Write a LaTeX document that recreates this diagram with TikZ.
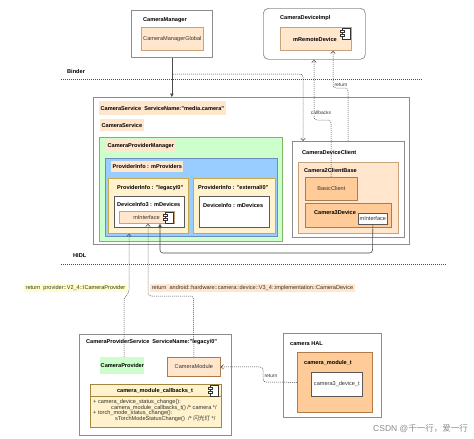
\documentclass[tikz,border=0pt]{standalone}
\usepackage{fontspec}
\setmainfont{Liberation Sans}
\newfontfamily\cjk{Noto Sans CJK SC}
\usetikzlibrary{arrows.meta}
\definecolor{peach}{HTML}{FFE6CC}
\definecolor{peachd}{HTML}{C8A27A}
\definecolor{orangef}{HTML}{FFCC99}
\definecolor{oranged}{HTML}{B07A4A}
\definecolor{greenf}{HTML}{CCFFCC}
\definecolor{greend}{HTML}{82B366}
\definecolor{bluef}{HTML}{99CCFF}
\definecolor{blued}{HTML}{6C8EBF}
\definecolor{yellowf}{HTML}{FFF2CC}
\definecolor{yellowd}{HTML}{C9A94C}
\definecolor{retyel}{HTML}{FFFFCC}
\definecolor{grayb}{HTML}{8C8C8C}
\definecolor{txt}{HTML}{333333}
\newcommand\tsz{\fontsize{5.6}{6.6}\selectfont}
\newcommand\ssz{\fontsize{4.9}{5.9}\selectfont}
\tikzset{
  rbox/.style={draw=grayb, line width=0.7pt, fill=white, anchor=north west, inner sep=0pt},
  ttl/.style={anchor=west, font=\tsz\bfseries, inner sep=0pt},
  rtxt/.style={font=\tsz, text=txt, inner sep=0pt},
  lblbox/.style={fill=peach, font=\tsz\bfseries, inner xsep=1.5pt, inner ysep=0pt, anchor=west},
  dotc/.style={draw=black!75, line width=0.5pt, dash pattern=on 1pt off 1pt, rounded corners=3pt, -{Straight Barb[length=2.5pt,width=4.5pt]}},
  solc/.style={draw=black!70, line width=0.6pt, rounded corners=3pt, -{Triangle[length=3.5pt,width=3.5pt]}},
  elbl/.style={fill=white, font=\ssz, text=txt, inner sep=0.5pt},
  comp/.pic={
    \draw[fill=white, line width=0.4pt, draw=black!80] (2,0) rectangle (10,11);
    \draw[fill=white, line width=0.4pt, draw=black!80] (0,2.5) rectangle (4,4.5);
    \draw[fill=white, line width=0.4pt, draw=black!80] (0,6.5) rectangle (4,8.5);
  }
}
\begin{document}
\begin{tikzpicture}[x=1pt,y=-1pt]
\useasboundingbox[fill=white] (0,0) rectangle (474,439);

% ---------- CameraManager
\node[rbox, minimum width=81pt, minimum height=47pt] (cm) at (131,10) {};
\node[ttl] (cmt1) at (143,20) {CameraManager};
\node[rbox, fill=peach, draw=peachd, minimum width=62pt, minimum height=23pt, rtxt] (cmg) at (141,27) {CameraManagerGlobal};

% ---------- CameraDeviceImpl
\node[rbox, rounded corners=5pt, minimum width=102pt, minimum height=51pt] (cdi) at (263,8) {};
\node[ttl] (cdit) at (280,18) {CameraDeviceImpl};
\node[rbox, fill=peach, draw=peachd, minimum width=71pt, minimum height=23pt] (mrd) at (280,27) {};
\node[font=\tsz\bfseries, inner sep=0pt] (mrdt) at (315,39) {mRemoteDevice};
\pic at (340,28) {comp};

% ---------- Binder
\node[ttl] (binder) at (67,71) {Binder};
\coordinate (bl1) at (61,79);
\coordinate (bl2) at (422,79);
\draw[black!70, line width=0.5pt, dash pattern=on 1pt off 1pt] (bl1) -- (bl2);

% ---------- CameraService
\node[rbox, minimum width=316pt, minimum height=147pt] (cs) at (93,97) {};
\node[lblbox, minimum height=14pt] (csl1) at (99,108) {CameraService\ \ ServiceName:"media.camera"};
\node[lblbox, minimum height=12pt] (csl2) at (100,125) {CameraService};

\node[rbox, fill=greenf, draw=greend, minimum width=183pt, minimum height=104pt] (cpm) at (99,137) {};
\node[lblbox, minimum height=12pt] (cpml) at (106,146) {CameraProviderManager};

\node[rbox, fill=bluef, draw=blued, minimum width=172pt, minimum height=78pt] (blu) at (105,158) {};
\node[lblbox, minimum height=11pt] (blul) at (111,166.5) {ProviderInfo : mProviders};

\node[rbox, fill=yellowf, draw=yellowd, minimum width=80pt, minimum height=55pt] (pl) at (108,178) {};
\node[ttl] (plt) at (117,188) {ProviderInfo : "legacy/0"};
\node[rbox, fill=yellowf, draw=yellowd, minimum width=82pt, minimum height=55pt] (pe) at (193,178) {};
\node[ttl] (pet) at (198,188) {ProviderInfo : "external/0"};

\node[rbox, draw=black!65, minimum width=70pt, minimum height=31pt] (di3) at (114,196) {};
\node[ttl] (di3t) at (117,205) {DeviceInfo3 : mDevices};
\node[rbox, draw=black!65, minimum width=70pt, minimum height=31pt] (di) at (199,196) {};
\node[ttl] (dit) at (203,205) {DeviceInfo : mDevices};

\node[rbox, fill=peach, draw=peachd, minimum width=55pt, minimum height=12pt] (mif) at (119,211) {};
\node[rtxt] (mift) at (146.5,217) {mInterface};
\pic at (163,212) {comp};

% CameraDeviceClient
\node[rbox, minimum width=112pt, minimum height=96pt] (cdc) at (292,141) {};
\node[ttl] (cdct) at (302,152) {CameraDeviceClient};
\node[rbox, fill=peach, draw=peachd, minimum width=100pt, minimum height=71pt] (c2cb) at (298,162) {};
\node[ttl] (c2cbt) at (304,170) {Camera2ClientBase};
\node[rbox, fill=orangef, draw=oranged, minimum width=52pt, minimum height=23pt, rtxt] (bc) at (305,177) {BasicClient};
\node[rbox, fill=orangef, draw=oranged, minimum width=86pt, minimum height=24pt] (c3d) at (305,203) {};
\node[ttl] (c3dt) at (314,212) {Camera3Device};
\node[rbox, draw=black!65, minimum width=29pt, minimum height=11pt, rtxt] (mif2) at (358,213) {mInterface};

% ---------- HIDL
\node[ttl] (hidl) at (73,256) {HIDL};
\coordinate (hl1) at (61,264);
\coordinate (hl2) at (447,264);
\draw[black!70, line width=0.5pt, dash pattern=on 1pt off 1pt] (hl1) -- (hl2);

\node[fill=retyel, rtxt, inner xsep=1.5pt, inner ysep=1.5pt] (ret1) at (75.5,288) {return\ \ provider::V2\_4::ICameraProvider};
\node[fill=peach, rtxt, inner xsep=1.5pt, inner ysep=1.5pt] (ret2) at (252.5,288) {return\ \ android::hardware::camera::device::V3\_4::implementation::CameraDevice};

% ---------- CameraProviderService
\node[rbox, minimum width=152pt, minimum height=101pt] (cps) at (79,334) {};
\node[ttl] (cpst) at (86,342) {CameraProviderService\ \ ServiceName:"legacy/0"};
\node[rbox, fill=greenf, draw=none, minimum width=44pt, minimum height=17pt, font=\tsz\bfseries] (cp) at (100,357) {CameraProvider};
\node[rbox, fill=peach, draw=oranged, minimum width=53pt, minimum height=19pt, rtxt] (cmod) at (167,357) {CameraModule};

\node[rbox, fill=yellowf, draw=yellowd!80!black, minimum width=131pt, minimum height=43pt] (cb) at (90,384) {};
\coordinate (cbs1) at (90,396);
\coordinate (cbs2) at (221,396);
\draw[yellowd!80!black, line width=0.6pt] (cbs1) -- (cbs2);
\node[font=\tsz\bfseries, inner sep=0pt] (cbt) at (155,390.5) {camera\_module\_callbacks\_t};
\pic at (208,385) {comp};
\node[rtxt, anchor=west] (cbl1) at (93,402) {+ camera\_device\_status\_change():};
\node[rtxt, anchor=west] (cbl2) at (111,408) {camera\_module\_callbacks\_t() /* camera */};
\node[rtxt, anchor=west] (cbl3) at (93,413.5) {+ torch\_mode\_status\_change():};
\node[rtxt, anchor=west] (cbl4) at (115,419) {sTorchModeStatusChange()\ \ /* {\cjk 闪光灯} */};

% ---------- camera HAL
\node[rbox, minimum width=98pt, minimum height=84pt] (hal) at (283,333) {};
\node[ttl] (halt) at (290,344) {camera HAL};
\node[rbox, fill=orangef, draw=oranged, minimum width=75pt, minimum height=60pt] (cmt) at (297,352) {};
\node[ttl] (cmtt) at (304,363) {camera\_module\_t};
\node[rbox, draw=black!65, minimum width=51pt, minimum height=24pt, rtxt] (c3dev) at (311,372) {camera3\_device\_t};

% ---------- connectors
\draw[solc] (cm.south) -- (cm.south |- cs.north);
\coordinate (b0) at (173,74);
\draw[dotc] (b0) -- (303,74) -- ([xshift=11pt]cdc.north west);
\draw[dotc] ([xshift=56pt]cdc.north west) -- (348,88) -- (333,88) -- ([xshift=53pt]mrd.south west);
\node[elbl] (retl) at (341,85) {return};
\draw[dotc] ([xshift=26pt]bc.north west) -- (331,120) -- (314,120) -- ([xshift=51pt]cdi.south west);
\node[elbl] (cbkl) at (321,113) {callbacks};
\draw[solc] (mif2.south) -- (372.5,253) -- (160,253) -- ([xshift=41pt]mif.south west);
\draw[dotc] (cmod.north) -- (193.5,296) -- (148,296) -- ([xshift=29pt]mif.south west);
\draw[dotc] ([xshift=24pt]cp.north west) -- (124,298) -- (129,293) -- ([xshift=21pt]pl.south west);
\draw[dotc] (cmt.west) -- (263,382) -- (263,367) -- (cmod.east);
\node[elbl, fill=none] (retl2) at (271,376) {return};

% watermark
\node[text=black!45, font=\fontsize{8.5}{9}\selectfont, inner sep=0pt, anchor=east] (wm) at (468,429) {CSDN @{\cjk 千一行，爱一行}};
\end{tikzpicture}
\end{document}
